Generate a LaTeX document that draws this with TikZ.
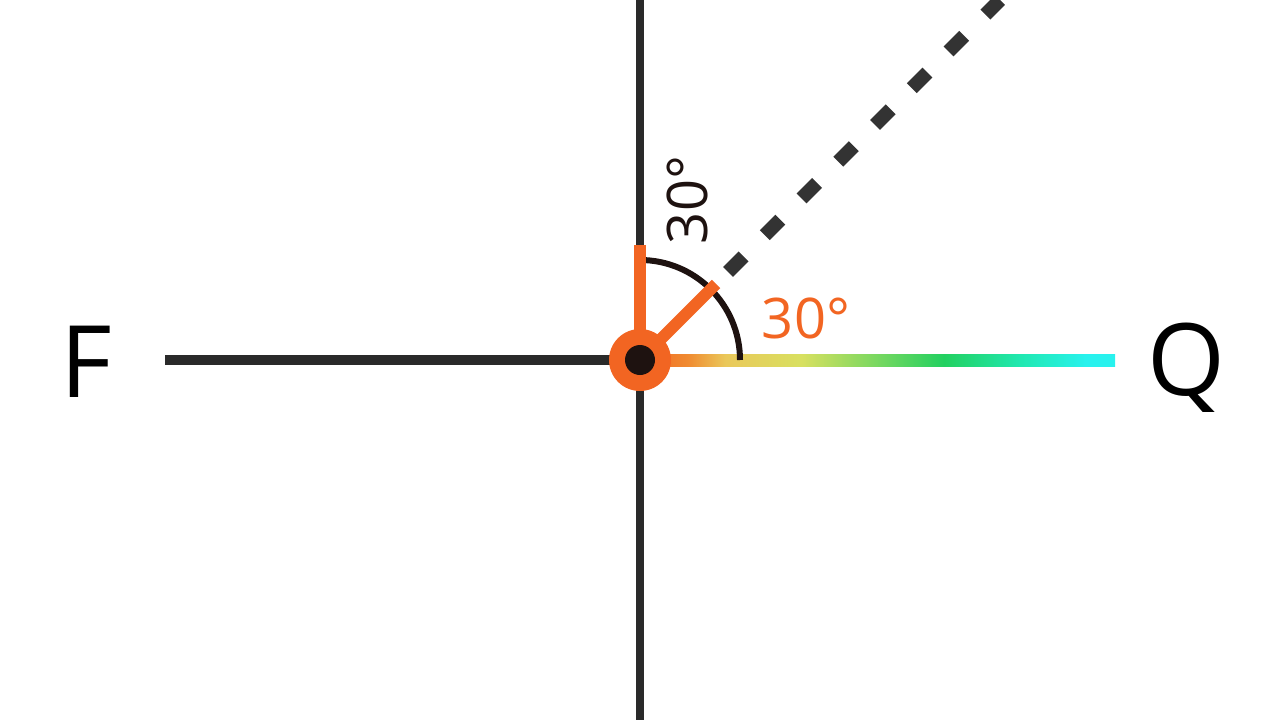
\documentclass[tikz,border=0pt]{standalone}
\usepackage{fontspec}
\setmainfont{Open Sans}
\definecolor{axis}{HTML}{2A2A2A}
\definecolor{org}{HTML}{F26522}
\definecolor{arcc}{HTML}{1E1210}
\definecolor{dsh}{HTML}{333333}
\definecolor{g1}{HTML}{F08A30}
\definecolor{g2}{HTML}{EAC85A}
\definecolor{g3}{HTML}{D8E060}
\definecolor{g4}{HTML}{22D060}
\definecolor{g5}{HTML}{20E8B0}
\definecolor{g6}{HTML}{28F2EE}
\pgfdeclarehorizontalshading{qshade}{100bp}{color(0bp)=(org); color(25bp)=(org); color(30bp)=(g1); color(34bp)=(g2); color(42bp)=(g3); color(57bp)=(g4); color(65bp)=(g5); color(72bp)=(g6); color(100bp)=(g6)}
\begin{document}
\begin{tikzpicture}[x=1pt,y=-1pt,
  axisline/.style={draw=axis,line width=8pt},
  lbl/.style={inner sep=0pt,font=\fontsize{56}{56}\selectfont},
  big/.style={inner sep=0pt,font=\fontsize{100}{100}\selectfont}]
\useasboundingbox (0,0) rectangle (1280,720);
\coordinate (O) at (640,360);
\coordinate (top) at (640,0);
\coordinate (bot) at (640,720);
\coordinate (L) at (165,360);
\coordinate (R) at (1115,360);
\coordinate (Ot) at (640,245);
\coordinate (rad) at (716,284);
\coordinate (ds) at (728,272);
\coordinate (de) at (1000,0);
\draw[axisline] (top) -- (bot);
\draw[axisline,line width=10pt] (L) -- (O);
\shade[shading=qshade] (640,354) rectangle (1115,366);
\draw[dsh,line width=14pt,dash pattern=on 22pt off 30pt] (ds) -- (de);
\draw[arcc,line width=6pt] (740,360) arc[start angle=0,end angle=-90,radius=100];
\draw[org,line width=12pt] (O) -- (Ot);
\draw[org,line width=12pt] (O) -- (rad);
\fill[org] (O) circle[radius=31];
\fill[arcc] (O) circle[radius=15];
\node[lbl,org] (a2) at (806,318) {30°};
\node[lbl,arcc,rotate=90] (a1) at (687,200) {30°};
\node[big] (F) at (86,362) {F};
\node[big] (Q) at (1186,368) {Q};
\end{tikzpicture}
\end{document}
